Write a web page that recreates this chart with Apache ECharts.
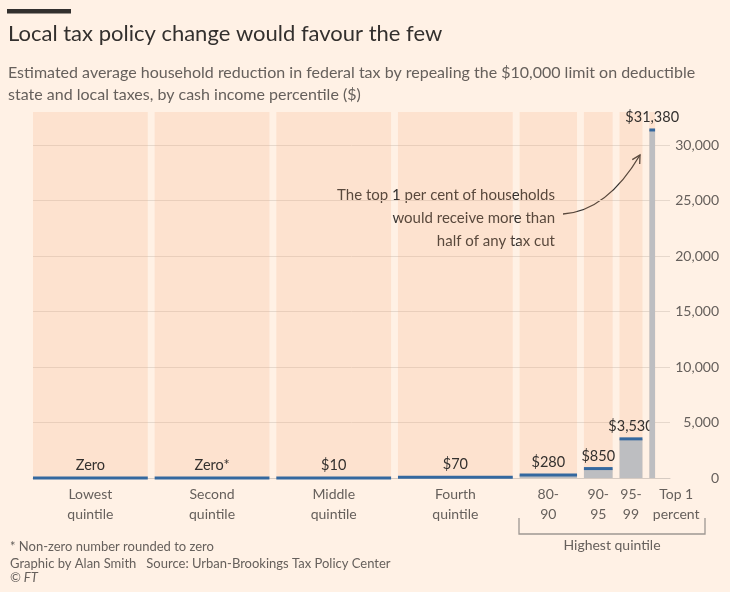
<!DOCTYPE html>
<html>
<head>
<meta charset="utf-8">
<script src="https://cdn.jsdelivr.net/npm/echarts@6/dist/echarts.min.js"></script>
<style>
  html, body { margin: 0; padding: 0; background: #fff1e5; }
  #chart { width: 730px; height: 592px; }
</style>
</head>
<body>
<div id="chart"></div>
<script>
// income groups, share of households (%) and average tax cut ($)
var groups = ["Lowest\nquintile", "Second\nquintile", "Middle\nquintile", "Fourth\nquintile",
              "80-\n90", "90-\n95", "95-\n99", "Top 1\npercent"];
var shares = [20, 20, 20, 20, 10, 5, 4, 1];
var taxCut = [0, 0, 10, 70, 280, 850, 3530, 31380];
var valueLabels = ["Zero", "Zero*", "$10", "$70", "$280", "$850", "$3,530", "$31,380"];
var yTicks = [0, 5000, 10000, 15000, 20000, 25000, 30000];

var FONT = "Lato";
var GAP = 1.2;      // gap between columns, in percentile units
var X_MAX = 111;
var Y_MAX = 33000;

// cumulative column spans: [start, end, value, index]
var spans = [];
var pos = 0;
shares.forEach(function (s, i) {
  spans.push([pos, pos + s, taxCut[i], i]);
  pos += s + GAP;
});

function renderPanel(params, api) {
  var a = api.coord([api.value(0), Y_MAX]);
  var b = api.coord([api.value(1), 0]);
  return {
    type: "rect",
    shape: { x: a[0], y: a[1], width: b[0] - a[0], height: b[1] - a[1] },
    // translucent so the gridlines still show through
    style: { fill: "rgba(245,168,118,0.2)" }
  };
}

function renderBar(params, api) {
  var i = api.value(3);
  var a = api.coord([api.value(0), api.value(2)]);
  var b = api.coord([api.value(1), 0]);
  var x = a[0], w = b[0] - a[0];
  var yTop = a[1], yBase = b[1];
  // last label sits to the right of its thin column
  var shift = i === groups.length - 1 ? 24 : 0;
  return {
    type: "group",
    children: [
      {
        type: "rect",
        shape: { x: x, y: yTop, width: w, height: yBase - yTop },
        style: { fill: "#bdbec1" }
      },
      {
        type: "rect",
        shape: { x: x, y: yTop - 1.5, width: w, height: 3 },
        style: { fill: "#34689f" }
      },
      {
        type: "text",
        x: x + w / 2,
        y: yTop - 5,
        style: {
          text: valueLabels[i], align: "center", verticalAlign: "bottom",
          textAlign: "center", textVerticalAlign: "bottom",
          fill: "#33302e", fontSize: 14.5, fontFamily: FONT
        }
      },
      {
        type: "text",
        x: x + w / 2 + shift,
        y: yBase + 6,
        style: {
          text: groups[i], align: "center", verticalAlign: "top",
          textAlign: "center", textVerticalAlign: "top",
          fill: "#66605c", fontSize: 14, fontFamily: FONT, lineHeight: 20
        }
      }
    ]
  };
}

var dom = document.getElementById("chart");
var myChart = echarts.init(dom, null, { renderer: "canvas" });

// arrow from the note to the top bar
var arrowStart = [563, 214], arrowCtrl = [607, 211], arrowEnd = [640, 155];
var dx = arrowEnd[0] - arrowCtrl[0], dy = arrowEnd[1] - arrowCtrl[1];
var len = Math.sqrt(dx * dx + dy * dy);
var ux = dx / len, uy = dy / len;
function headPoint(angle) {
  var c = Math.cos(angle), s = Math.sin(angle);
  var rx = -(ux * c - uy * s), ry = -(ux * s + uy * c);
  return [arrowEnd[0] + rx * 9, arrowEnd[1] + ry * 9];
}

var option = {
  backgroundColor: "#fff1e5",
  animation: false,
  grid: { left: 33, right: 60, top: 112, bottom: 114 },
  xAxis: {
    type: "value",
    min: 0,
    max: X_MAX,
    axisLine: { show: true, lineStyle: { color: "#d6cbc2", width: 1 } },
    axisTick: { show: false },
    axisLabel: { show: false },
    splitLine: { show: false }
  },
  yAxis: {
    type: "value",
    position: "right",
    min: 0,
    max: Y_MAX,
    interval: yTicks[1] - yTicks[0],
    axisLine: { show: false },
    axisTick: { show: false },
    axisLabel: {
      align: "right",
      margin: 49,
      color: "#66605c",
      fontSize: 14,
      fontFamily: FONT,
      formatter: function (v) {
        return yTicks.indexOf(v) >= 0 ? v.toLocaleString("en-US") : "";
      }
    },
    splitLine: { show: true, showMaxLine: false, lineStyle: { color: "#e6d8cc", width: 1 } }
  },
  series: [
    {
      type: "custom",
      renderItem: renderPanel,
      encode: { x: [0, 1], y: 2 },
      data: spans,
      silent: true
    },
    {
      type: "custom",
      z: 3,
      clip: false,
      renderItem: renderBar,
      encode: { x: [0, 1], y: 2 },
      data: spans,
      silent: true
    }
  ],
  graphic: [
    { type: "rect", left: 7, top: 9, shape: { width: 64, height: 4.5 }, style: { fill: "#33302e" } },
    {
      type: "text", left: 8, top: 23,
      style: { text: "Local tax policy change would favour the few", fill: "#33302e",
               fontSize: 22, fontFamily: FONT }
    },
    {
      type: "text", left: 8, top: 62,
      style: {
        text: "Estimated average household reduction in federal tax by repealing the $10,000 limit on deductible\nstate and local taxes, by cash income percentile ($)",
        fill: "#66605c", fontSize: 16, fontFamily: FONT, lineHeight: 22
      }
    },
    {
      type: "text", x: 555, y: 184,
      style: {
        text: "The top 1 per cent of households\nwould receive more than\nhalf of any tax cut",
        align: "right", textAlign: "right", fill: "#33302e", fontSize: 15, fontFamily: FONT,
        lineHeight: 23
      }
    },
    {
      type: "bezierCurve",
      shape: { x1: arrowStart[0], y1: arrowStart[1], cpx1: arrowCtrl[0], cpy1: arrowCtrl[1],
               x2: arrowEnd[0], y2: arrowEnd[1] },
      style: { stroke: "#33302e", lineWidth: 1.3, fill: null }
    },
    {
      type: "polyline",
      shape: { points: [headPoint(0.5), arrowEnd, headPoint(-0.5)] },
      style: { stroke: "#33302e", lineWidth: 1.3, fill: null }
    },
    {
      type: "polyline",
      shape: { points: [[519, 518], [519, 534], [705, 534], [705, 518]] },
      style: { stroke: "#9e9893", lineWidth: 1.3, fill: null }
    },
    {
      type: "text", x: 612, y: 538,
      style: { text: "Highest quintile", align: "center", textAlign: "center",
               fill: "#66605c", fontSize: 14, fontFamily: FONT }
    },
    {
      type: "text", left: 10, top: 538,
      style: {
        text: "* Non-zero number rounded to zero\nGraphic by Alan Smith   Source: Urban-Brookings Tax Policy Center",
        fill: "#66605c", fontSize: 13, fontFamily: FONT, lineHeight: 17
      }
    },
    {
      type: "text", left: 10, top: 571,
      style: { text: "\u00a9 FT", fill: "#66605c", fontSize: 13, fontFamily: FONT, fontStyle: "italic" }
    }
  ]
};

myChart.setOption(option);
window.addEventListener("resize", myChart.resize);
</script>
</body>
</html>
